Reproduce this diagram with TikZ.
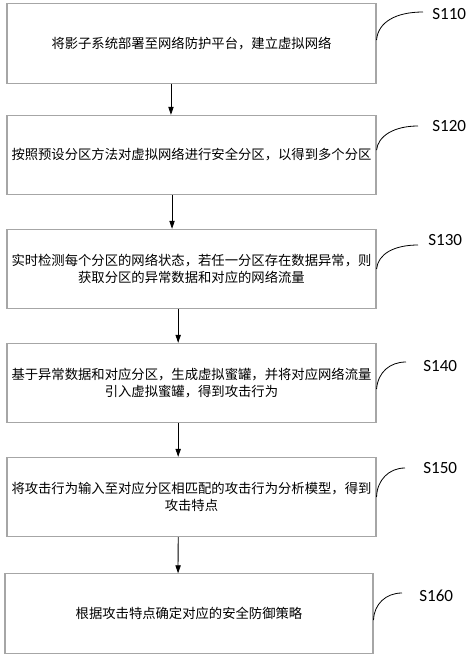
\documentclass[tikz,border=0pt]{standalone}
\usepackage{fontspec}
\setmainfont{Carlito}
\newfontfamily\cjk{Noto Sans CJK SC}
\usetikzlibrary{arrows.meta}

\tikzset{
    stepbox/.style={draw=black!35, line width=0.8pt, minimum width=276.75pt,
        minimum height=59.5pt, inner sep=0pt, align=center,
        font={\cjk\fontsize{10}{12.3}\selectfont}},
    steplabel/.style={anchor=west, inner sep=0pt, font={\fontsize{12.8}{12.8}\selectfont}},
    flow/.style={-{Triangle[length=6pt,width=4pt]}, line width=0.6pt},
    hook/.style={line width=0.6pt}
}

\begin{document}
\begin{tikzpicture}[x=0.75pt, y=-0.75pt]
    \useasboundingbox (0,0) rectangle (474,658);

    % steps
    \node[stepbox] (s110) at (191.5,43.5) {将影子系统部署至网络防护平台，建立虚拟网络};
    \node[stepbox] (s120) at (191.5,155) {按照预设分区方法对虚拟网络进行安全分区，以得到多个分区};
    \node[stepbox] (s130) at (191.5,269) {实时检测每个分区的网络状态，若任一分区存在数据异常，则\\获取分区的异常数据和对应的网络流量};
    \node[stepbox] (s140) at (191.5,383) {基于异常数据和对应分区，生成虚拟蜜罐，并将对应网络流量\\引入虚拟蜜罐，得到攻击行为};
    \node[stepbox] (s150) at (191.5,497) {将攻击行为输入至对应分区相匹配的攻击行为分析模型，得到\\攻击特点};
    \node[stepbox, minimum width=276pt] (s160) at (189,613.5) {根据攻击特点确定对应的安全防御策略};

    % arrows
    \draw[flow] ([xshift=-15.4pt]s110.south) -- ([xshift=-15.4pt]s120.north);
    \draw[flow] ([xshift=-14.6pt]s120.south) -- ([xshift=-14.6pt]s130.north);
    \draw[flow] ([xshift=-10pt]s130.south) -- ([xshift=-10pt]s140.north);
    \draw[flow] ([xshift=-10pt]s140.south) -- ([xshift=-10pt]s150.north);
    \draw[flow] ([xshift=-10pt]s150.south) -- ([xshift=-8.2pt]s160.north);

    % step labels
    \coordinate (h110) at (423,12);
    \coordinate (h120) at (418,126);
    \coordinate (h130) at (418,245);
    \coordinate (h140) at (406,362);
    \coordinate (h150) at (405,468);
    \coordinate (h160) at (402,593);
    \draw[hook] ([yshift=2.6pt]s110.east) .. controls (378,22) and (396,12) .. (h110);
    \draw[hook] ([yshift=3.7pt]s120.east) .. controls (378,136) and (394,126) .. (h120);
    \draw[hook] (s130.east) .. controls (378,254) and (394,245) .. (h130);
    \draw[hook] ([yshift=-4.5pt]s140.east) .. controls (378,372) and (390,362) .. (h140);
    \draw[hook] (s150.east) .. controls (377,480) and (389,468) .. (h150);
    \draw[hook] ([yshift=-4.9pt]s160.east) .. controls (374,604) and (386,593) .. (h160);
    \node[steplabel] (l110) at (432,14) {S110};
    \node[steplabel] (l120) at (432,126) {S120};
    \node[steplabel] (l130) at (428,240) {S130};
    \node[steplabel] (l140) at (423,366) {S140};
    \node[steplabel] (l150) at (423,468) {S150};
    \node[steplabel] (l160) at (419,596) {S160};
\end{tikzpicture}
\end{document}
